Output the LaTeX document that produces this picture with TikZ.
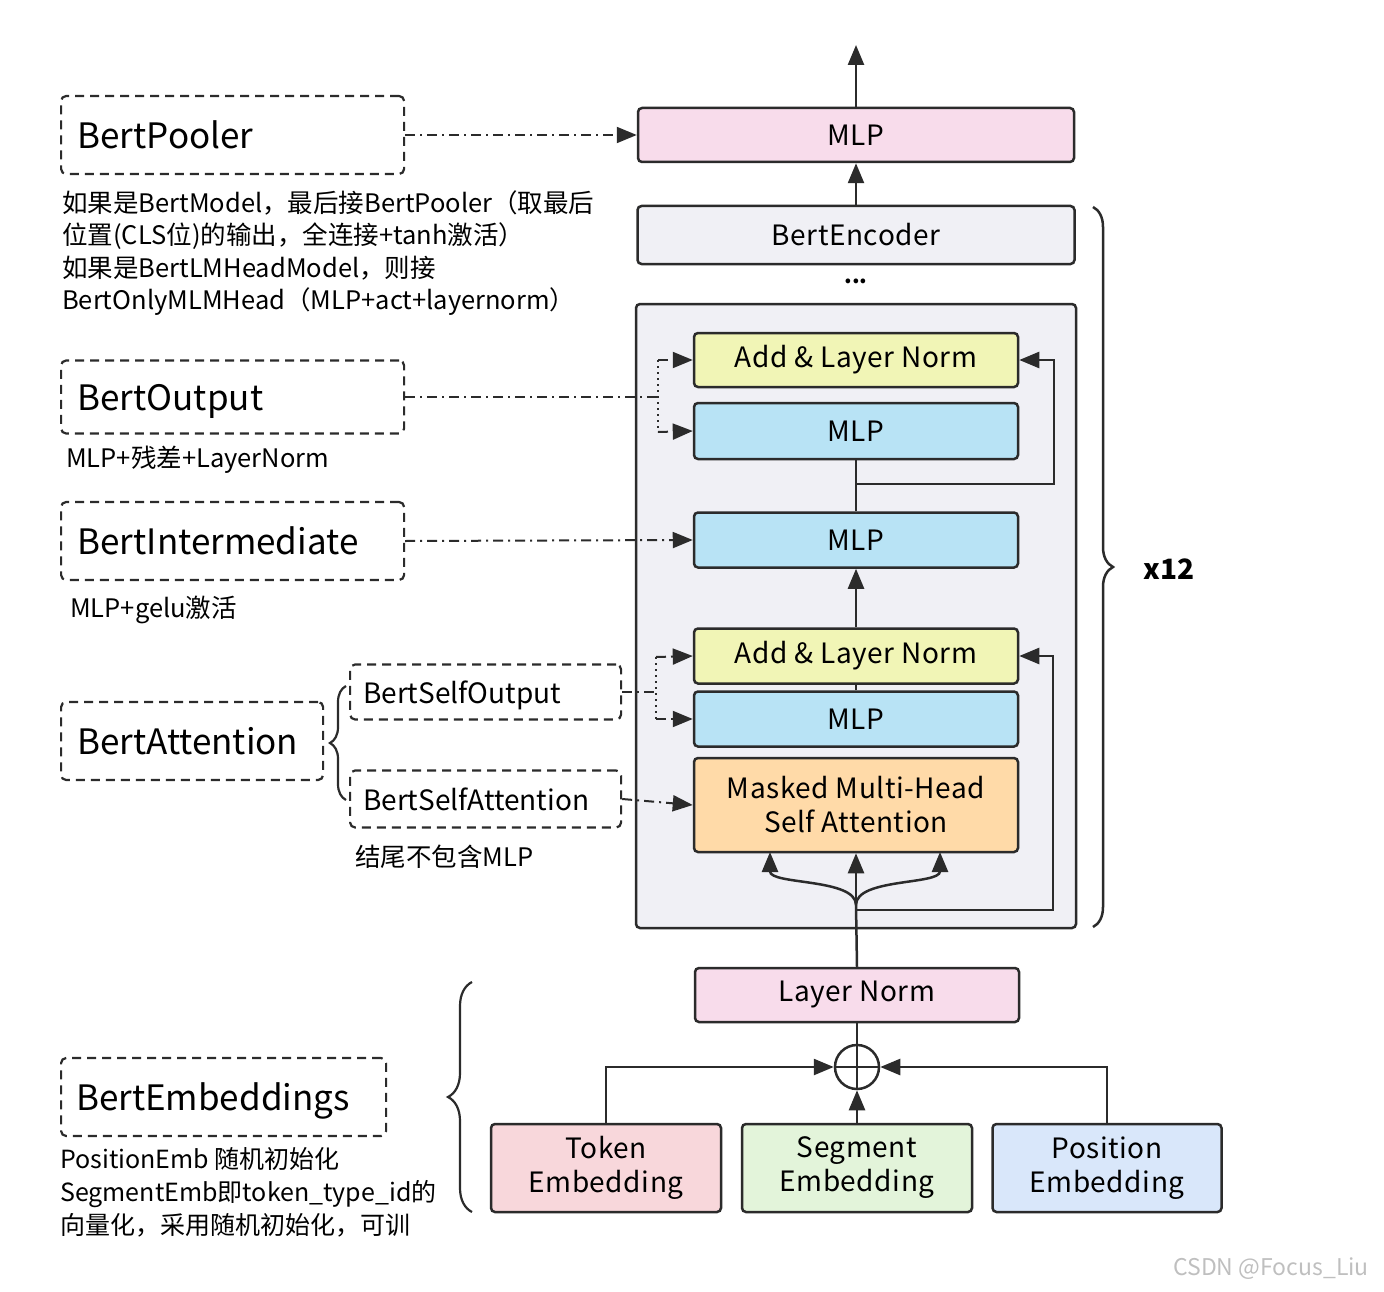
\documentclass[tikz,border=0pt]{standalone}
\usepackage{fontspec}
\setmainfont{Noto Sans CJK SC}
\usetikzlibrary{arrows.meta,decorations.pathreplacing}
\definecolor{bd}{HTML}{2B2B2B}
\definecolor{pk}{HTML}{F8DCEB}
\definecolor{gr}{HTML}{F0F0F5}
\definecolor{yl}{HTML}{F1F5B6}
\definecolor{bl}{HTML}{B8E3F5}
\definecolor{or}{HTML}{FFDAA8}
\definecolor{tk}{HTML}{F8D7DB}
\definecolor{sg}{HTML}{E3F4DA}
\definecolor{ps}{HTML}{D9E7FA}
\begin{document}
\begin{tikzpicture}[x=1pt,y=-1pt,
 bx/.style={draw=bd,line width=2.5pt,rounded corners=4pt,inner sep=0pt,font=\fontsize{28}{34}\selectfont\addfontfeatures{LetterSpace=2},align=center},
 db/.style={draw=bd,line width=2.2pt,dashed,dash pattern=on 9pt off 6pt,rounded corners=5pt,inner sep=0pt,font=\fontsize{35}{40}\selectfont,text depth=0pt},
 dbs/.style={db,font=\fontsize{28}{32}\selectfont},
 ln/.style={draw=bd,line width=2.5pt},
 ar/.style={ln,-{Triangle[length=20pt,width=16pt]}},
 dd/.style={draw=bd,line width=2pt,dash pattern=on 10pt off 5pt on 2pt off 5pt,-{Triangle[length=20pt,width=16pt]}},
 dl/.style={draw=bd,line width=2pt,dash pattern=on 2pt off 4pt},
 tx/.style={font=\fontsize{25.5}{32.5}\selectfont,align=left,anchor=north west,inner sep=0pt},
 br/.style={ln,decorate,decoration={brace,amplitude=20pt}}]
\useasboundingbox (0,0) rectangle (1384,1292);
% right column
\node[bx,fill=gr,minimum width=440pt,minimum height=624pt] (cont) at (856,616) {};
\node[bx,fill=pk,minimum width=436pt,minimum height=54pt] (mlpT) at (856,135) {MLP};
\node[bx,fill=gr,minimum width=437pt,minimum height=58pt] (enc) at (856,235) {BertEncoder};
\node[font=\fontsize{22}{26}\selectfont\bfseries] (dots) at (856,281) {...};
\node[bx,fill=yl,minimum width=324pt,minimum height=54pt] (aln2) at (856,360) {Add \& Layer Norm};
\node[bx,fill=bl,minimum width=324pt,minimum height=56pt] (mlp3) at (856,431) {MLP};
\node[bx,fill=bl,minimum width=324pt,minimum height=55pt] (mlp2) at (856,540) {MLP};
\node[bx,fill=yl,minimum width=324pt,minimum height=55pt] (aln1) at (856,656) {Add \& Layer Norm};
\node[bx,fill=bl,minimum width=324pt,minimum height=55pt] (mlp1) at (856,719) {MLP};
\node[bx,fill=or,minimum width=324pt,minimum height=94pt] (mha) at (856,805) {Masked Multi-Head\\Self Attention};
\node[bx,fill=pk,minimum width=324pt,minimum height=54pt] (lnrm) at (857,995) {Layer Norm};
\node[draw=bd,line width=2.5pt,circle,minimum size=44pt,inner sep=0pt] (plus) at (857,1067) {};
\draw[ln] (plus.north)--(plus.south) (plus.west)--(plus.east);
\node[bx,fill=tk,minimum width=230pt,minimum height=88pt] (tok) at (606,1168) {Token\\Embedding};
\node[bx,fill=sg,minimum width=230pt,minimum height=88pt] (seg) at (857,1168) {Segment\\Embedding};
\node[bx,fill=ps,minimum width=229pt,minimum height=88pt] (pos) at (1107,1168) {Position\\Embedding};
\coordinate (top) at (856,45);
\draw[ar] (mlpT.north)--(top);
\draw[ar] (enc.north)--(mlpT.south);
\draw[ar] (tok.north)|-(plus.west);
\draw[ar] (pos.north)|-(plus.east);
\draw[ar] (seg.north)--(plus.south);
\draw[ln] (plus.north)--(lnrm.south);
\coordinate (sp) at (856,905);
\draw[ln] (lnrm.north)--(sp);
\draw[ar] (sp)--(mha.south);
\draw[ar] (sp) .. controls (856,878) and (770,885) .. (770,852);
\draw[ar] (sp) .. controls (856,878) and (940,885) .. (940,852);
\coordinate (r1) at (1053,910);
\draw[ar] (856,910)--(r1)|-(aln1.east);
\draw[ln] (mlp1.north)--(aln1.south);
\draw[ar] (aln1.north)--(mlp2.south);
\draw[ln] (mlp2.north)--(mlp3.south);
\coordinate (r2) at (1054,484);
\draw[ar] (856,484)--(r2)|-(aln2.east);
% braces
\draw[br] (1093,207)--(1093,927);
\node[font=\fontsize{28}{32}\selectfont\bfseries] (x12) at (1169,569) {x12};
% left
\node[db,minimum width=343pt,minimum height=78pt,anchor=west,text width=310pt] (pool) at (60,135) {BertPooler};
\draw[dd] (pool.east)--(mlpT.west);
\node[tx] (t1) at (62,190) {如果是BertModel，最后接BertPooler（取最后\\位置(CLS位)的输出，全连接+tanh激活）\\如果是BertLMHeadModel，则接\\BertOnlyMLMHead（MLP+act+layernorm）};
\node[db,minimum width=343pt,minimum height=73pt,anchor=west,text width=310pt] (out) at (60,397) {BertOutput};
\coordinate (o1) at (658,397);
\draw[dd,-] (out.east)--(o1);
\draw[dl] (658,360)--(658,432);
\draw[dd] (658,360)--(aln2.west);
\draw[dd] (658,432)--(mlp3.west);
\node[tx] (t2) at (66,446) {MLP+残差+LayerNorm};
\node[db,minimum width=343pt,minimum height=78pt,anchor=west,text width=310pt] (inter) at (60,541) {BertIntermediate};
\draw[dd] (inter.east)--(mlp2.west);
\node[tx] (t3) at (70,596) {MLP+gelu激活};
\node[db,minimum width=262pt,minimum height=78pt,anchor=west,text width=230pt] (att) at (60,741) {BertAttention};
\node[dbs,minimum width=271pt,minimum height=55pt,anchor=west,text width=245pt] (so) at (349,692) {BertSelfOutput};
\node[dbs,minimum width=271pt,minimum height=57pt,anchor=west,text width=245pt] (sa) at (349,799) {BertSelfAttention};
\draw[ln,decorate,decoration={brace,amplitude=16pt},line width=2.2pt] (346,800)--(346,686);
\draw[dd,-] (so.east)--(656,692);
\draw[dl] (656,657)--(656,719);
\draw[dd] (656,657)--(aln1.west);
\draw[dd] (656,719)--(mlp1.west);
\draw[dd] (sa.east)--(mha.west);
\node[tx] (t4) at (355,845) {结尾不包含MLP};
\node[db,minimum width=325pt,minimum height=78pt,anchor=west,text width=295pt] (emb) at (60,1097) {BertEmbeddings};
\draw[br,line width=2.2pt,decoration={amplitude=24pt}] (472,1212)--(472,982);
\node[tx,font=\fontsize{25}{33}\selectfont] (t5) at (60,1147) {PositionEmb 随机初始化\\SegmentEmb即token\_type\_id的\\向量化，采用随机初始化，可训};
\node[font=\fontsize{23}{26}\selectfont,text=black!25] (wm) at (1271,1269) {CSDN @Focus\_Liu};
\end{tikzpicture}
\end{document}
